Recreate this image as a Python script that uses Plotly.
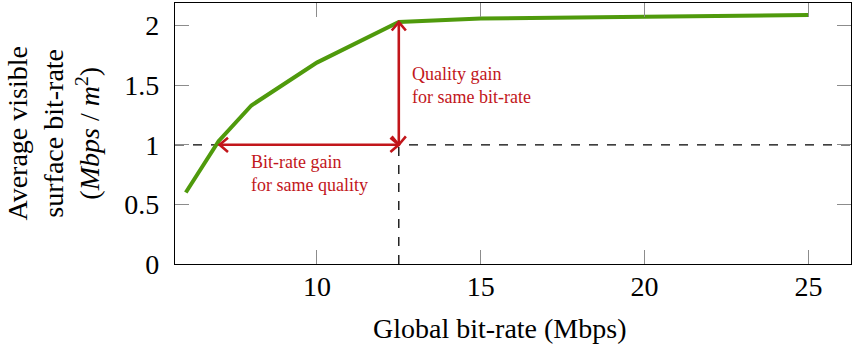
import plotly.graph_objects as go
import math

# ---- data ----
rates = [6, 7, 8, 10, 12.5, 15, 20, 25]              # Global bit-rate (Mbps)
quality = [0.60, 1.03, 1.33, 1.69, 2.03, 2.06, 2.075, 2.09]  # Avg visible surface bit-rate

x_ticks = [10, 15, 20, 25]
y_ticks = [0, 0.5, 1, 1.5, 2]
y_tick_labels = ["0", "0.5", "1", "1.5", "2"]

ref_quality = 1.0          # horizontal dashed level
ref_rate = 12.5            # vertical dashed position
same_quality_rate = 7.03   # where curve reaches ref_quality
gain_quality = 2.03        # curve value at ref_rate

label_rate_gain = "Bit-rate gain<br>for same quality"
label_quality_gain = "Quality gain<br>for same bit-rate"
x_title = "Global bit-rate (Mbps)"
y_title = "Average visible<br>surface bit-rate<br>(<i>Mbps</i> / <i>m</i><sup>2</sup>)"

x_range = [5.67, 26.3]
y_range = [0, 2.19]

W, H = 856, 346
M = dict(l=175, r=5, t=3, b=82)

GREEN = "#4f9a0c"
RED = "#c2161b"
FONT = "Liberation Serif"

pw = W - M["l"] - M["r"]
ph = H - M["t"] - M["b"]
sx = pw / (x_range[1] - x_range[0])   # px per x unit
sy = ph / (y_range[1] - y_range[0])   # px per y unit


def chevron(tip, frm, arm=11, ang=40):
    """Open arrow head at `tip`, pointing away from `frm` (data coords)."""
    dx = (frm[0] - tip[0]) * sx
    dy = (frm[1] - tip[1]) * sy
    L = math.hypot(dx, dy)
    ux, uy = dx / L, dy / L
    pts = []
    for s in (1, -1):
        a = math.radians(ang * s)
        rx = ux * math.cos(a) - uy * math.sin(a)
        ry = ux * math.sin(a) + uy * math.cos(a)
        pts.append((tip[0] + rx * arm / sx, tip[1] + ry * arm / sy))
    return [pts[0][0], tip[0], pts[1][0]], [pts[0][1], tip[1], pts[1][1]]


fig = go.Figure()

fig.add_trace(go.Scatter(x=rates, y=quality, mode="lines",
                         line=dict(color=GREEN, width=4), hoverinfo="skip"))

arrows = [
    ((same_quality_rate, ref_quality), (ref_rate, ref_quality)),
    ((ref_rate, ref_quality), (ref_rate, gain_quality)),
]
for p, q in arrows:
    fig.add_trace(go.Scatter(x=[p[0], q[0]], y=[p[1], q[1]], mode="lines",
                             line=dict(color=RED, width=2.6), hoverinfo="skip"))
    for tip, frm in ((p, q), (q, p)):
        cx, cy = chevron(tip, frm)
        fig.add_trace(go.Scatter(x=cx, y=cy, mode="lines",
                                 line=dict(color=RED, width=2.6), hoverinfo="skip"))

fig.add_shape(type="line", xref="paper", x0=0, x1=1, yref="y",
              y0=ref_quality, y1=ref_quality, layer="below",
              line=dict(color="black", width=1.3, dash="9px,9px"))
fig.add_shape(type="line", xref="x", x0=ref_rate, x1=ref_rate, yref="y",
              y0=y_range[0], y1=ref_quality, layer="below",
              line=dict(color="black", width=1.3, dash="9px,9px"))

fig.add_annotation(x=7.94, y=0.76, xref="x", yref="y", text=label_rate_gain,
                   showarrow=False, xanchor="left", yanchor="middle", align="left",
                   font=dict(family=FONT, size=18, color=RED))
fig.add_annotation(x=12.85, y=1.50, xref="x", yref="y", text=label_quality_gain,
                   showarrow=False, xanchor="left", yanchor="middle", align="left",
                   font=dict(family=FONT, size=18, color=RED))

# axis titles as annotations (pixel-precise placement)
fig.add_annotation(x=-(M["l"] - 53) / pw, y=0.5, xref="paper", yref="paper",
                   text=y_title, textangle=-90, showarrow=False,
                   xanchor="center", yanchor="middle",
                   font=dict(family=FONT, size=28, color="black"))
fig.add_annotation(x=0.5 - 13 / pw, y=-(328 - (H - M["b"])) / ph, xref="paper", yref="paper",
                   text=x_title, showarrow=False, xanchor="center", yanchor="middle",
                   font=dict(family=FONT, size=28, color="black"))

axis_common = dict(showline=True, linecolor="black", linewidth=1.2, mirror="allticks",
                   ticks="inside", ticklen=14, tickcolor="#8c8c8c", tickwidth=1,
                   showgrid=False, zeroline=False,
                   tickfont=dict(family=FONT, size=28, color="black"))

fig.update_layout(
    width=W, height=H, margin=M,
    paper_bgcolor="white", plot_bgcolor="white", showlegend=False,
    xaxis=dict(range=x_range, tickvals=x_ticks, ticklabelstandoff=-3, **axis_common),
    yaxis=dict(range=y_range, tickvals=y_ticks, ticktext=y_tick_labels,
               ticklabelstandoff=9, **axis_common),
)

fig.write_html("out.html", config={"displayModeBar": False},
               post_script="document.body.style.margin='0px';document.body.style.overflow='hidden';")
